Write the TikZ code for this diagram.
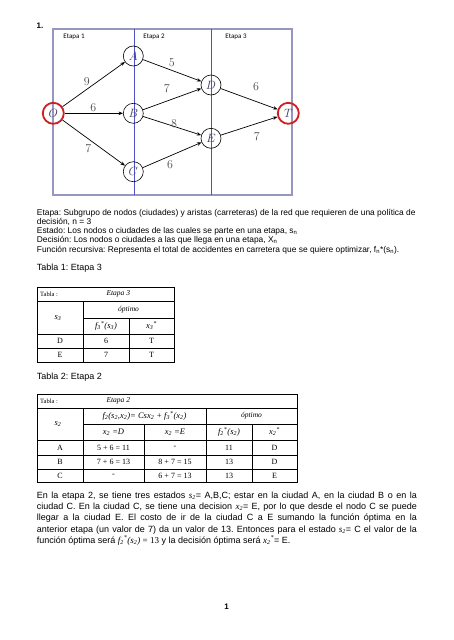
\documentclass[tikz,border=0pt]{standalone}
\usepackage{fontspec}
\setmainfont{Liberation Sans}
\newfontfamily\tabfont{Liberation Serif}
\newfontfamily\etapafont{Carlito}
\usetikzlibrary{arrows.meta}
\frenchspacing

\definecolor{marco}{RGB}{150,150,190}
\definecolor{divisor}{RGB}{80,80,200}
\definecolor{letra}{RGB}{60,60,100}
\definecolor{rojo}{RGB}{210,30,30}

\tikzset{
  ciudad/.style={circle, draw=black, line width=0.6pt, minimum size=20pt, inner sep=0pt,
    text=letra, font=\fontsize{12}{12}\selectfont},
  extremo/.style={ciudad, draw=rojo, line width=1.8pt, minimum size=21pt},
  ruta/.style={-{Stealth[length=4.5pt,width=3.5pt]}, line width=0.7pt},
  costo/.style={text=black!70, font=\fontsize{12}{12}\selectfont, inner sep=0pt},
  etapa/.style={font=\etapafont\fontsize{7}{8}\selectfont, inner sep=0pt},
  tabla/.style={line width=0.9pt},
  celda/.style={font=\tabfont\fontsize{8}{8}\selectfont, inner sep=0pt},
  cursiva/.style={font=\tabfont\itshape\fontsize{8.5}{9}\selectfont, inner sep=0pt},
  rotulo/.style={font=\tabfont\itshape\fontsize{7.5}{8}\selectfont, inner sep=0pt},
  chica/.style={font=\tabfont\fontsize{6.5}{7}\selectfont, inner sep=0pt},
  texto/.style={inner sep=0pt, align=left}
}

\begin{document}
\begin{tikzpicture}[x=1pt,y=-1pt]
    \useasboundingbox[fill=white] (0,0) rectangle (453,640);
    \node[font=\bfseries\fontsize{8}{9}\selectfont, inner sep=0pt] (num) at (40,26) {1.};
    % red de ciudades
    \draw[marco, line width=1.2pt] (53,29) rectangle (292,195);
    \draw[divisor, line width=0.8pt] (134.3,29) -- (134.3,195);
    \draw[divisor, line width=0.8pt] (211.7,29) -- (211.7,195);
    \node[etapa] (e1) at (74,37) {Etapa 1};
    \node[etapa] (e2) at (154,37) {Etapa 2};
    \node[etapa] (e3) at (236,37) {Etapa 3};
    \node[extremo] (O) at (53.3,113.3) {$O$};
    \node[ciudad] (A) at (133.3,56) {$A$};
    \node[ciudad] (B) at (133.3,113.3) {$B$};
    \node[ciudad] (C) at (133.3,171.7) {$C$};
    \node[ciudad] (D) at (211,85) {$D$};
    \node[ciudad] (E) at (211,138.3) {$E$};
    \node[extremo] (T) at (288.3,113.3) {$T$};
    \draw[ruta] (O) -- (A);
    \draw[ruta] (O) -- (B);
    \draw[ruta] (O) -- (C);
    \draw[ruta] (A) -- (D);
    \draw[ruta] (B) -- (D);
    \draw[ruta] (B) -- (E);
    \draw[ruta] (C) -- (E);
    \draw[ruta] (D) -- (T);
    \draw[ruta] (E) -- (T);
    \node[costo] (cOA) at (86.7,81.7) {$9$};
    \node[costo] (cOB) at (93.3,107.3) {$6$};
    \node[costo] (cOC) at (88.3,148.3) {$7$};
    \node[costo] (cAD) at (171.7,62.7) {$5$};
    \node[costo] (cBD) at (166.7,88.3) {$7$};
    \node[costo] (cBE) at (174,123.5) {$8$};
    \node[costo] (cCE) at (170,165) {$6$};
    \node[costo] (cDT) at (256,86.7) {$6$};
    \node[costo] (cET) at (256.7,136.7) {$7$};
    % definiciones
    \node[texto, anchor=north west, font=\fontsize{8.4}{9.2}\selectfont] (def) at (36.7,209) {%
      Etapa: Subgrupo de nodos (ciudades) y aristas (carreteras) de la red que requieren de una política de\\
      decisión, n = 3\\
      Estado: Los nodos o ciudades de las cuales se parte en una etapa, s\textsubscript{n}\\
      Decisión: Los nodos o ciudades a las que llega en una etapa, X\textsubscript{n}\\
      Función recursiva: Representa el total de accidentes en carretera que se quiere optimizar, f\textsubscript{n}*(s\textsubscript{n}).};
    \node[texto, anchor=west, font=\fontsize{9}{10}\selectfont] (t1) at (36.7,268.3) {Tabla 1: Etapa 3};
    % tabla 1
    \draw[tabla] (37,287) rectangle (174,362);
    \draw[tabla] (37,301) -- (174,301) (37,334) -- (174,334) (37,348) -- (174,348);
    \draw[tabla] (83,318) -- (174,318) (83,301) -- (83,362) (129,318) -- (129,362);
    \node[chica, anchor=west] (t1a) at (40,294) {Tabla :};
    \node[rotulo] (t1b) at (118.3,294) {Etapa 3};
    \node[rotulo] (t1c) at (128.5,309.5) {óptimo};
    \node[cursiva] (t1d) at (58,318) {s\textsubscript{3}};
    \node[cursiva] (t1e) at (106,326) {f\textsubscript{3}\textsuperscript{*}(s\textsubscript{3})};
    \node[cursiva] (t1f) at (151.5,326) {x\textsubscript{3}\textsuperscript{*}};
    \node[celda] (t1g) at (60,341) {D};
    \node[celda] (t1h) at (106,341) {6};
    \node[celda] (t1i) at (151.5,341) {T};
    \node[celda] (t1j) at (60,355) {E};
    \node[celda] (t1k) at (106,355) {7};
    \node[celda] (t1l) at (151.5,355) {T};
    \node[texto, anchor=west, font=\fontsize{9}{10}\selectfont] (t2) at (36.7,376.7) {Tabla 2: Etapa 2};
    % tabla 2
    \draw[tabla] (37,394) rectangle (297,482);
    \draw[tabla] (37,408) -- (297,408) (37,440) -- (297,440) (37,455) -- (297,455) (37,469) -- (297,469);
    \draw[tabla] (83,424) -- (297,424) (83,408) -- (83,482) (206,408) -- (206,482);
    \draw[tabla] (144,424) -- (144,482) (252,424) -- (252,482);
    \node[chica, anchor=west] (t2a) at (40,401) {Tabla :};
    \node[rotulo] (t2b) at (118.3,401) {Etapa 2};
    \node[cursiva] (t2c) at (144.5,416) {f\textsubscript{2}(s\textsubscript{2},x\textsubscript{2})= Csx\textsubscript{2} + f\textsubscript{3}\textsuperscript{*}(x\textsubscript{2})};
    \node[rotulo] (t2d) at (251.5,416) {óptimo};
    \node[cursiva] (t2e) at (58,424) {s\textsubscript{2}};
    \node[cursiva] (t2f) at (113.5,432) {x\textsubscript{2} =D};
    \node[cursiva] (t2g) at (175,432) {x\textsubscript{2} =E};
    \node[cursiva] (t2h) at (229,432) {f\textsubscript{2}\textsuperscript{*}(s\textsubscript{2})};
    \node[cursiva] (t2i) at (274.5,432) {x\textsubscript{2}\textsuperscript{*}};
    \node[celda] (t2j) at (60,447.5) {A};
    \node[celda] (t2k) at (113.5,447.5) {5 + 6 = 11};
    \node[celda] (t2l) at (175,447.5) {-};
    \node[celda] (t2m) at (229,447.5) {11};
    \node[celda] (t2n) at (274.5,447.5) {D};
    \node[celda] (t2o) at (60,462) {B};
    \node[celda] (t2p) at (113.5,462) {7 + 6 = 13};
    \node[celda] (t2q) at (175,462) {8 + 7 = 15};
    \node[celda] (t2r) at (229,462) {13};
    \node[celda] (t2s) at (274.5,462) {D};
    \node[celda] (t2t) at (60,475.5) {C};
    \node[celda] (t2u) at (113.5,475.5) {-};
    \node[celda] (t2v) at (175,475.5) {6 + 7 = 13};
    \node[celda] (t2w) at (229,475.5) {13};
    \node[celda] (t2x) at (274.5,475.5) {E};
    % conclusion
    \node[texto, anchor=north west, text width=380pt, align=justify, font=\fontsize{9}{11.1}\selectfont] (par) at (36.7,492) {%
      En la etapa 2, se tiene tres estados {\tabfont\itshape s\textsubscript{2}}= A,B,C; estar en la ciudad A, en la ciudad B o en la\linebreak
      ciudad C. En la ciudad C, se tiene una decision {\tabfont\itshape x\textsubscript{2}}= E, por lo que desde el nodo C se puede\linebreak
      llegar a la ciudad E. El costo de ir de la ciudad C a E sumando la función óptima en la\linebreak
      anterior etapa (un valor de 7) da un valor de 13. Entonces para el estado {\tabfont\itshape s\textsubscript{2}}= C el valor de la\linebreak
      función óptima será {\tabfont\itshape f\textsubscript{2}\textsuperscript{*}(s\textsubscript{2})\upshape{} = 13} y la decisión óptima será {\tabfont\itshape x\textsubscript{2}\textsuperscript{*}}= E.};
    \node[font=\bfseries\fontsize{8}{9}\selectfont, inner sep=0pt] (pag) at (226.7,606.7) {1};
\end{tikzpicture}
\end{document}
